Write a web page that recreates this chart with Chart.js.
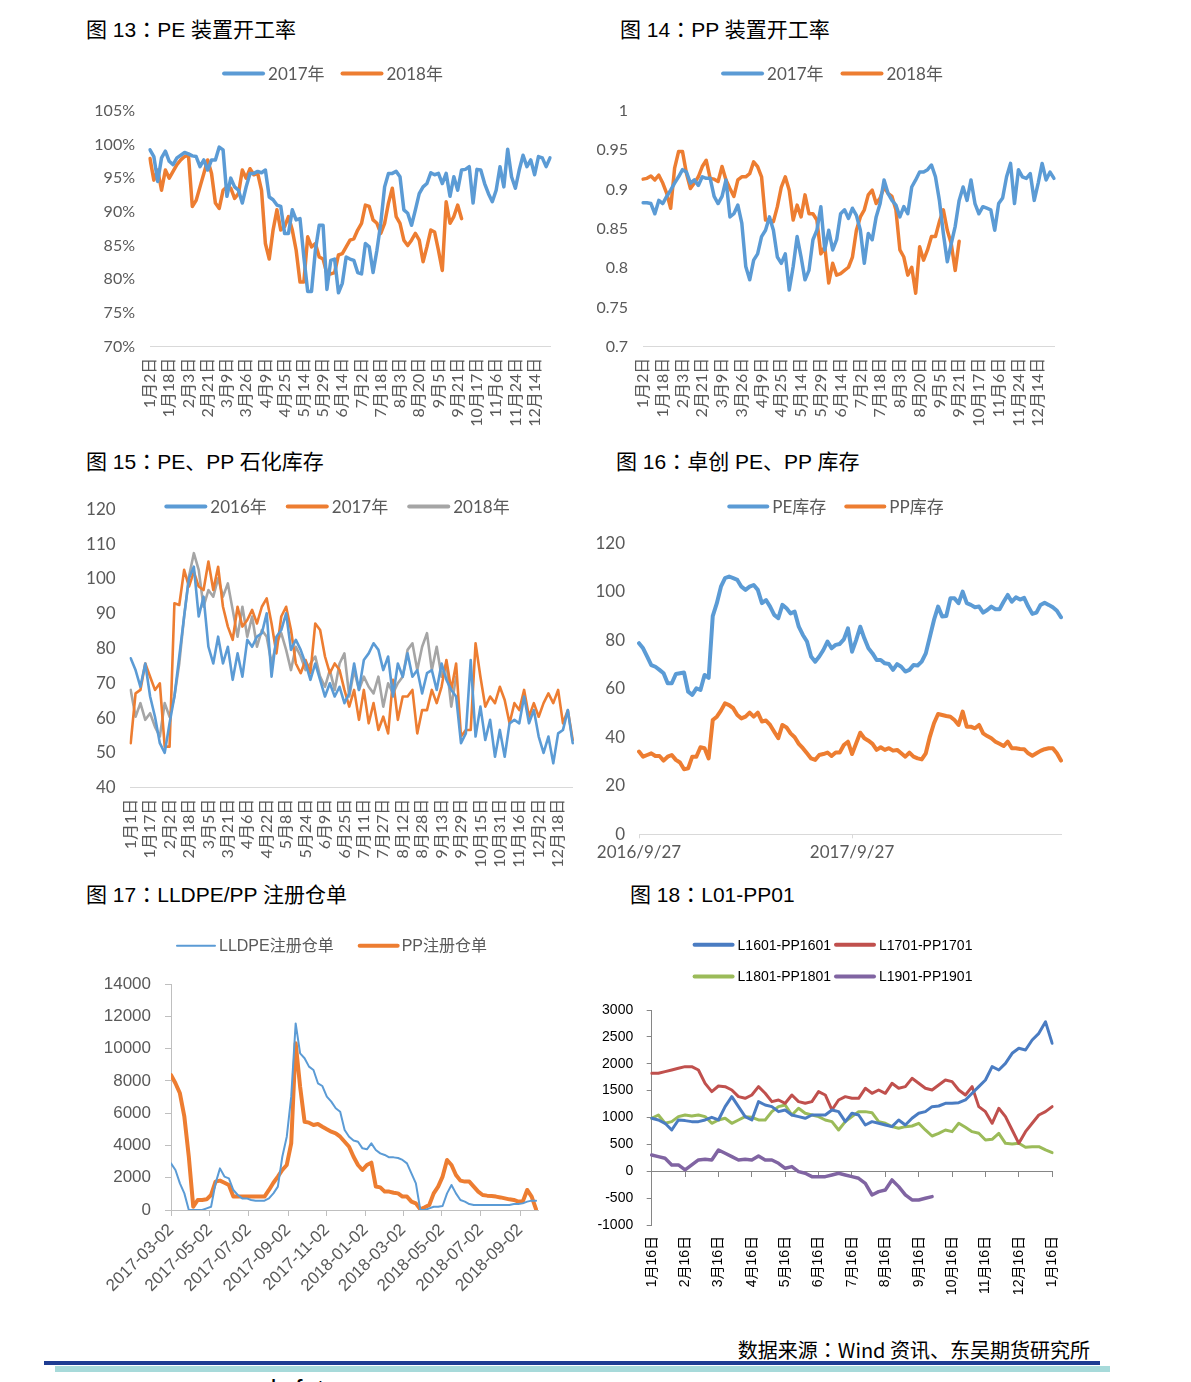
<!DOCTYPE html>
<html>
<head>
<meta charset="utf-8">
<script src="https://cdn.jsdelivr.net/npm/chart.js@4.4.1/dist/chart.umd.min.js"></script>
<style>
body{margin:0;background:#fff;width:1191px;height:1382px;position:relative;overflow:hidden}
.t{position:absolute;font:21px "Liberation Sans","Noto Sans CJK SC",sans-serif;color:#000;line-height:26px;white-space:nowrap}
.c{font-family:"Noto Sans CJK TC",sans-serif}
canvas{position:absolute}
.src{position:absolute;right:101px;top:1337px;font:20px "Noto Sans CJK SC",sans-serif;line-height:26px;color:#000;white-space:nowrap}
.bar1{position:absolute;left:44px;top:1361px;width:1056px;height:4px;background:#1E3C92}
.bar2{position:absolute;left:55px;top:1366px;width:1055px;height:6px;background:#A7DADA}
.site{position:absolute;left:262px;top:1375px;font:26px "Liberation Sans",sans-serif;line-height:28px;color:#000}
</style>
</head>
<body>
<div class="t" style="left:86px;top:15px">图 13<span class="c">：</span>PE 装置开工率</div>
<div class="t" style="left:620px;top:15px">图 14<span class="c">：</span>PP 装置开工率</div>
<div class="t" style="left:86px;top:447px">图 15<span class="c">：</span>PE、PP 石化库存</div>
<div class="t" style="left:616px;top:447px">图 16<span class="c">：</span>卓创 PE、PP 库存</div>
<div class="t" style="left:86px;top:880px">图 17<span class="c">：</span>LLDPE/PP 注册仓单</div>
<div class="t" style="left:630px;top:880px">图 18<span class="c">：</span>L01-PP01</div>

<canvas id="c13" width="500" height="390" style="left:80px;top:50px"></canvas>
<canvas id="c14" width="490" height="390" style="left:590px;top:50px"></canvas>
<canvas id="c15" width="515" height="395" style="left:80px;top:480px"></canvas>
<canvas id="c16" width="492" height="395" style="left:590px;top:480px"></canvas>
<canvas id="c17" width="480" height="395" style="left:80px;top:925px"></canvas>
<canvas id="c18" width="490" height="395" style="left:590px;top:925px"></canvas>

<div class="src">数据来源<span class="c">：</span>Wind 资讯、东吴期货研究所</div>
<div class="bar1"></div>
<div class="bar2"></div>
<div class="site">dwfutures.com</div>

<script>
// ---- 图13 / 图14: 装置开工率, 5 points between tick labels
var ticksRate = ['1月2日','1月18日','2月3日','2月21日','3月9日','3月26日','4月9日','4月25日','5月14日','5月29日',
  '6月14日','7月2日','7月18日','8月3日','8月20日','9月5日','9月21日','10月17日','11月6日','11月24日','12月14日'];

var pe2017 = [99.2,98.2,94.5,98,99,97.5,97,98,98.4,98.8, 98.6,98.3,98.2,96.7,97.7,96.2,97.7,97.7,99.6,99.2,
  92.3,95,93.7,93.2,91.3,93.7,95.7,95.7,96,95.8, 96.2,92.2,91.8,91,90.8,86.8,86.8,90.3,88.8,89,
  83.3,78.2,78.2,84.3,88,88,78.5,82.8,83,78, 79.4,83.3,83,82.8,81,80.8,85.3,84.8,81,84.3,
  88.3,93.7,95.7,95.7,96,95.2,90.3,89.8,88,90.3, 92.7,93.7,94.2,95.8,95.5,95.7,94.2,95.7,92.3,95.2,
  93.2,96.2,96.3,96.7,91.3,96.3,96.2,94.2,92.7,91.5, 93.2,96.7,93.7,99.3,95.2,93.5,96.2,98.4,96.7,97.7,
  95.5,98.2,98,96.7,98];
var pe2018 = [97.9,94.7,96.2,93.2,96.2,95,96,97,97.7,98.2, 98.4,90.8,91.7,93.7,95.7,97.7,95.7,91.3,90.5,93.2,
  93.7,93.5,92,92.7,96.2,95,96.4,95.5,95.7,93.2, 85.3,83,87.3,90.3,87.3,87.8,89.3,87.3,84.3,79.6,
  79.6,86.3,84.8,85.3,83.3,83,80.8,80.8,81,83.6, 83.8,84.8,85.8,86,87.3,88.3,91,90.8,88.8,88.3,
  86.8,88.3,91.3,93.5,89.3,88.3,85.8,85,85.8,86.8, 85.8,82.6,84.8,87.3,87,84.3,81.3,91.5,88.3,89.3,
  91,89];

var pp2017 = [0.883,0.883,0.882,0.869,0.886,0.882,0.891,0.899,0.908,0.916, 0.925,0.922,0.908,0.912,0.905,0.916,0.914,0.914,0.891,0.882,
  0.891,0.912,0.865,0.869,0.88,0.857,0.802,0.785,0.81,0.818, 0.84,0.848,0.865,0.848,0.814,0.806,0.818,0.772,0.802,0.84,
  0.814,0.785,0.797,0.836,0.848,0.878,0.823,0.848,0.823,0.836, 0.869,0.874,0.863,0.876,0.867,0.848,0.806,0.844,0.836,0.865,
  0.882,0.912,0.895,0.886,0.88,0.865,0.878,0.869,0.903,0.912, 0.922,0.922,0.925,0.931,0.916,0.886,0.844,0.808,0.831,0.853,
  0.886,0.903,0.886,0.912,0.882,0.869,0.878,0.876,0.874,0.848, 0.882,0.889,0.916,0.933,0.882,0.925,0.916,0.914,0.92,0.886,
  0.908,0.933,0.912,0.922,0.914];
var pp2018 = [0.913,0.914,0.917,0.912,0.918,0.908,0.895,0.876,0.927,0.948, 0.948,0.92,0.901,0.908,0.916,0.929,0.937,0.914,0.913,0.91,
  0.929,0.912,0.901,0.891,0.912,0.916,0.916,0.92,0.935,0.929, 0.916,0.861,0.861,0.859,0.878,0.903,0.916,0.899,0.861,0.88,
  0.865,0.893,0.869,0.869,0.861,0.818,0.827,0.781,0.806,0.791, 0.793,0.797,0.801,0.814,0.848,0.865,0.874,0.893,0.899,0.882,
  0.889,0.903,0.895,0.891,0.874,0.823,0.814,0.791,0.801,0.768, 0.827,0.81,0.823,0.84,0.84,0.859,0.874,0.848,0.831,0.797,
  0.834];

// ---- 图15: 石化库存, 4 points between tick labels
var ticksStock = ['1月1日','1月17日','2月2日','2月18日','3月5日','3月21日','4月6日','4月22日','5月8日','5月24日','6月9日','6月25日',
  '7月11日','7月27日','8月12日','8月28日','9月13日','9月29日','10月15日','10月31日','11月16日','12月2日','12月18日'];
var stock2016 = [77.2,73.8,69,75.7,66.2,60.4,52.8,50,58.5,66.2, 77.7,89.2,100.2,103.5,89.2,94.9,80.5,75.7,83.4,75.7,
  80.5,71,78.6,71.9,82.5,80.5,83.4,84.4,90.1,71.9, 83.4,85.3,90.1,79.6,82.5,79.6,75.7,71,75.7,71,
  66.2,70,66.2,69,64.3,67.1,75.7,68.1,76.7,78.6, 81.5,79.6,73.8,77.7,66.2,75.7,71.9,78.6,71.9,73.8,
  67.1,72.9,73.8,68.1,75.7,71,68.1,66.2,52.8,55.6, 76.7,54.7,63.3,53.7,59.5,48.9,56.6,48.9,58.5,59.5,
  58.5,66.2,58.5,62.3,54.7,50,54.7,47,55.6,56.6, 62.3,52.8];
var stock2017 = [52.8,67.1,68.1,75.7,71.9,68.1,70,51.8,51.8,93, 92.5,102.6,97.8,102.1,97.8,96.8,105,96.8,103.5,92,
  86.3,82.5,92,86.3,88.2,91.1,87.2,92,94.4,87.2, 78.6,89.2,92,85.3,75.7,72.9,76.7,72.9,87.2,85.3,
  77.7,72.9,75.7,73.8,68.1,63.3,68.1,59.5,68.1,58.5, 64.3,56.6,60.4,55.6,71,59.5,66.2,66.2,68.1,55.6,
  62.3,62.3,68.1,64.3,69,76.7,68.1,75.7,54.7,56.6, 56.6,81.5,71.9,63.3,66.2,64.3,69,65.2,58.5,64.3,
  62.3,68.1,60.4,64.3,60.4,64.3,67.1,64.3,68.1,58.5, 62.3,53.7];
var stock2018 = [68.1,60.4,64.3,59.5,61.4,57.5,54.7,64.3,60.4,66.2, 75.7,89.2,100.7,107.4,102.6,92,96.8,94.9,100.2,94.9,
  98.7,91.1,83.4,92,83.4,89.2,80.5,85.3,83.4,75.7, 81.5,84.4,79.6,73.8,80.5,77.7,73.8,75.7,77.7,71.9,
  69,73.8,68.1,75.7,78.6,66.2,73.8,68.1,71.9,69, 67.1,71.9,63.3,70,67.1,70,71.9,79.6,81.5,73.8,
  80.5,84.4,73.8,80.5,71.9,75.7,63.3,71.9];

// ---- 图16: 卓创库存, weekly, 52 weeks between tick labels
var ticksZc = ['2016/9/27','2017/9/27'];
var peStock = [78.8,76.7,73.3,69.8,69.1,67.8,66.4,62.3,62.3,66.1, 66.4,66.7,58.8,57.5,60.2,59.5,65.7,64.5,90,95.3,
  102.1,105.6,106.3,105.6,104.9,102.1,100.8,102.1,102.8,100.8, 95.3,96.6,93.9,90.5,89.1,94.6,93.2,91.1,91.8,85.6,
  82.2,79.5,73.3,71.2,73.3,76,79.5,76.7,78.1,78.5, 80.4,84.9,75.3,80.1,85.6,80.8,76.7,74.6,71.9,71.9,
  70.5,70.2,67.8,70.2,69.1,67.1,67.8,69.8,69.6,71.2, 74.6,81.5,88.4,93.9,89.8,90,97.3,97.3,95.3,100.1,
  95.3,94.6,93.6,93.9,91.4,92.5,93.9,92.8,92.8,95.9, 98.7,95.9,97.7,96.8,97.5,93.9,90.9,91.4,94.6,95.5,
  94.6,93.6,92.2,89.5];
var ppStock = [34.1,32,32.7,33.4,32.3,32.3,30.4,32,32.7,30.7, 29.6,26.8,27.2,32,32,35.9,35.5,31.3,47.1,48.5,
  51,54,53.3,52,49.2,47.8,48.5,50.2,48.5,50.2, 46.5,46.9,45.1,42.3,39.6,45.1,44.1,41.6,40,37.3,
  35.5,33.4,31.3,30.7,32.7,33.1,33.7,32.3,33.7,33.7, 36.8,38.2,33.1,37.5,41.9,39.6,38.6,37.3,34.8,35.9,
  34.8,35.5,34.5,34.8,33.4,32,33.7,32,31.3,30.9, 33.4,40.3,45.8,49.6,49.2,48.8,48.5,47.1,45.1,50.6,
  44.4,44.4,43.7,45.1,41.6,40.5,39.6,38.2,37.3,36.4, 38.2,35.5,35.5,35.2,35.1,33.4,32.4,33.4,34.4,35.1,
  35.5,35.5,33.4,30.4];

// ---- 图17: 注册仓单, weekly from 2017-03-02
var start17 = '2017-03-02';
var ticks17 = ['2017-03-02','2017-05-02','2017-07-02','2017-09-02','2017-11-02','2018-01-02','2018-03-02','2018-05-02','2018-07-02','2018-09-02'];
var lldpeWr = [2890,2480,1650,1030,0,0,0,0,100,200, 1650,2580,2070,1960,1240,930,720,720,620,580,
  580,580,720,1030,1450,3300,4540,7020,11560,9700, 9400,8880,8670,7850,7680,7020,6710,6300,6090,4960,
  4540,4300,4230,3820,3760,4130,3720,3510,3410,3260, 3260,3220,3100,2890,2270,1650,0,0,100,200,
  200,250,1030,1550,1030,620,520,370,310,310, 310,310,310,310,310,310,310,370,370,410,
  520,580,580];
var ppWr = [8360,7850,7230,5780,3300,200,620,620,660,930, 1760,1820,1690,1550,830,830,830,830,830,830,
  830,830,1240,1690,2070,2480,2790,4130,10330,7640, 5470,5410,5270,5330,5160,5000,4850,4750,4540,4230,
  3920,3300,2790,2480,2790,2930,1450,1400,1140,1140, 1070,1030,830,830,520,410,40,170,310,1030,
  1450,2070,3100,2790,2170,1820,1760,1760,1450,1140, 930,890,870,830,780,720,660,620,520,520,
  1240,830,40];

// ---- 图18: L01-PP01 价差, 5 points per month
var ticks18 = ['1月16日','2月16日','3月16日','4月16日','5月16日','6月16日','7月16日','8月16日','9月16日','10月16日','11月16日','12月16日','1月16日'];
var l1601 = [985,954,892,768,954,942,923,923,954,1004, 954,1202,1388,1202,1016,954,1295,1233,1202,1109,
  1140,1047,1016,985,1047,1047,1047,1140,1109,923, 1078,1047,861,923,892,861,830,954,861,985,
  1078,1109,1202,1214,1264,1264,1276,1326,1450,1574, 1698,1946,1884,2008,2194,2287,2256,2442,2566,2780,
  2380];
var l1701 = [1822,1822,1853,1884,1915,1946,1946,1884,1636,1481, 1586,1574,1512,1388,1357,1419,1574,1450,1295,1326,
  1264,1419,1295,1264,1295,1481,1419,1140,1326,1388, 1357,1357,1543,1450,1512,1450,1636,1543,1574,1729,
  1636,1543,1512,1605,1698,1667,1512,1419,1574,1202, 1109,892,1171,1016,768,520,737,892,1047,1109,
  1202];
var l1801 = [985,1047,892,923,1016,1047,1028,1047,1016,892, 954,985,892,954,1016,1004,954,954,1109,1202,
  1233,1047,1171,1078,1047,1016,954,923,768,923, 1016,1109,1109,1090,923,892,830,799,830,842,
  892,768,656,706,768,737,892,818,737,706, 582,594,706,520,508,520,446,458,458,396,
  346];
var l1901 = [303,272,241,117,117,24,117,210,222,210, 396,334,272,210,222,210,284,210,210,148,
  55,86,-7,-38,-100,-100,-100,-69,-38,-69, -100,-131,-224,-441,-379,-348,-162,-286,-441,-534,
  -534,-503,-472];

var F1 = 'Lato, "Noto Sans CJK SC", sans-serif';
var F2 = '"Liberation Sans", "Noto Sans CJK SC", sans-serif';
var GREY = '#595959';
var BLUE = '#5B9BD5', ORANGE = '#ED7D31', SILVER = '#A5A5A5';

// category labels: tick label every `step` points, blank in between
function slots(ticks, step, n) {
  return Array.from({length: n}, function (_, i) {
    return (i % step === 0 && i / step < ticks.length) ? ticks[i / step] : '';
  });
}
function keepLabelled(s) {
  var labels = s.getLabels();
  s.ticks = s.ticks.filter(function (t) { return labels[t.value] !== ''; });
}
function line(label, data, color, width) {
  return {label: label, data: data, borderColor: color, backgroundColor: color, borderWidth: width,
    pointRadius: 0, tension: 0, borderJoinStyle: 'round', borderCapStyle: 'round', fill: false};
}

// legend drawn as line samples + text, rows centred on cx
var lineLegend = {
  id: 'lineLegend',
  afterDraw: function (chart, args, o) {
    var ctx = chart.ctx;
    ctx.save();
    ctx.font = o.font;
    ctx.textBaseline = 'middle';
    o.rows.forEach(function (row, r) {
      var items = row.map(function (i) {
        var ds = chart.data.datasets[i];
        return {ds: ds, w: o.sample + o.gap + ctx.measureText(ds.label).width};
      });
      var total = items.reduce(function (s, it) { return s + it.w; }, 0) + o.spacing * (items.length - 1);
      var x = o.cx - total / 2;
      var y = o.y + r * (o.rowGap || 0);
      items.forEach(function (it) {
        ctx.strokeStyle = it.ds.borderColor;
        ctx.lineWidth = o.lineWidth || it.ds.borderWidth;
        ctx.lineCap = 'round';
        ctx.beginPath();
        ctx.moveTo(x + 1, y);
        ctx.lineTo(x + o.sample - 1, y);
        ctx.stroke();
        ctx.fillStyle = o.color;
        ctx.fillText(it.ds.label, x + o.sample + o.gap, y + 1);
        x += it.w + o.spacing;
      });
    });
    ctx.restore();
  }
};

var base = {responsive: false, animation: false, events: []};

function rateChart(id, labels, datasets, o) {
  return new Chart(document.getElementById(id), {
    type: 'line',
    data: {labels: labels, datasets: datasets},
    plugins: [lineLegend],
    options: Object.assign({}, base, {
      layout: {padding: {top: o.top, right: o.right, left: 0, bottom: 0}},
      plugins: {
        legend: {display: false}, tooltip: {enabled: false},
        lineLegend: {cx: o.cx, y: o.ly, rows: [datasets.map(function (d, i) { return i; })],
          sample: 41, gap: 4, spacing: o.spacing, font: '17px ' + F1, color: GREY, lineWidth: 4}
      },
      scales: {
        x: {
          type: 'category',
          grid: {drawOnChartArea: false, drawTicks: false},
          border: {display: true, color: '#D9D9D9', width: 1},
          ticks: {autoSkip: false, minRotation: 90, maxRotation: 90, padding: 11, color: GREY, font: {family: F1, size: 16}},
          afterBuildTicks: keepLabelled,
          afterFit: function (s) { s.height = o.xh; }
        },
        y: {
          min: o.min, max: o.max,
          grid: {display: false, drawTicks: false},
          border: {display: false},
          ticks: {stepSize: o.step, padding: 15, color: GREY, font: {family: F1, size: o.yfs},
            callback: o.fmt || function (v) { return String(v); }},
          afterFit: function (s) { s.width = o.yw; }
        }
      }
    })
  });
}

// 图13
rateChart('c13', slots(ticksRate, 5, pe2017.length), [
  line('2017年', pe2017, BLUE, 3.5),
  line('2018年', pe2018, ORANGE, 3.5)
], {top: 60.7, right: 30, cx: 253, ly: 23.5, spacing: 17, xh: 93.3, yw: 70, min: 70, max: 105, step: 5, yfs: 16,
  fmt: function (v) { return v + '%'; }});

// 图14
rateChart('c14', slots(ticksRate, 5, pp2017.length), [
  line('2017年', pp2017, BLUE, 3.5),
  line('2018年', pp2018, ORANGE, 3.5)
], {top: 60.7, right: 26, cx: 242.5, ly: 23.5, spacing: 18, xh: 93.3, yw: 53, min: 0.7, max: 1, step: 0.05, yfs: 16,
  fmt: function (v) { return String(Math.round(v * 100) / 100); }});

// 图15
rateChart('c15', slots(ticksStock, 4, stock2016.length), [
  line('2016年', stock2016, BLUE, 2.6),
  line('2017年', stock2017, ORANGE, 2.6),
  line('2018年', stock2018, SILVER, 2.6)
], {top: 29.3, right: 22.3, cx: 257.5, ly: 26.5, spacing: 20, xh: 87.3, yw: 50.7, min: 40, max: 120, step: 10, yfs: 17});

// 图16
new Chart(document.getElementById('c16'), {
  type: 'line',
  data: {labels: slots(ticksZc, 52, peStock.length), datasets: [
    line('PE库存', peStock, BLUE, 4),
    line('PP库存', ppStock, ORANGE, 4)
  ]},
  plugins: [lineLegend],
  options: Object.assign({}, base, {
    layout: {padding: {top: 63.3, right: 21, left: 0, bottom: 0}},
    plugins: {
      legend: {display: false}, tooltip: {enabled: false},
      lineLegend: {cx: 246, y: 26.5, rows: [[0, 1]], sample: 40, gap: 4, spacing: 19, font: '17px ' + F1, color: GREY, lineWidth: 4}
    },
    scales: {
      x: {
        type: 'category',
        grid: {drawOnChartArea: false, drawTicks: true, tickLength: 4, color: '#D9D9D9'},
        border: {display: true, color: '#D9D9D9'},
        ticks: {autoSkip: false, maxRotation: 0, padding: 4, color: GREY, font: {family: F1, size: 17}},
        afterBuildTicks: keepLabelled,
        afterFit: function (s) { s.height = 40.7; }
      },
      y: {
        min: 0, max: 120,
        grid: {display: false, drawTicks: false},
        border: {display: false},
        ticks: {stepSize: 20, padding: 14, color: GREY, font: {family: F1, size: 17}},
        afterFit: function (s) { s.width = 49; }
      }
    }
  })
});

// 图17
function dayOf(d) { return (Date.parse(d) - Date.parse(start17)) / 864e5; }
function weekly(vals) { return vals.map(function (v, i) { return {x: i * 7, y: v}; }); }
new Chart(document.getElementById('c17'), {
  type: 'line',
  data: {datasets: [
    line('LLDPE注册仓单', weekly(lldpeWr), BLUE, 2),
    line('PP注册仓单', weekly(ppWr), ORANGE, 4)
  ]},
  plugins: [lineLegend],
  options: Object.assign({}, base, {
    layout: {padding: {top: 59, right: 22, left: 0, bottom: 0}},
    plugins: {
      legend: {display: false}, tooltip: {enabled: false},
      lineLegend: {cx: 251.5, y: 20.8, rows: [[0, 1]], sample: 40, gap: 3, spacing: 25, font: '16px ' + F2, color: GREY}
    },
    scales: {
      x: {
        type: 'linear', min: 0, max: 577,
        grid: {drawOnChartArea: false, drawTicks: true, tickLength: 6, color: '#BFBFBF'},
        border: {display: true, color: '#BFBFBF'},
        ticks: {autoSkip: false, minRotation: 45, maxRotation: 45, padding: 4, color: GREY, font: {family: F2, size: 17},
          callback: function (v, i) { return ticks17[i]; }},
        afterBuildTicks: function (s) { s.ticks = ticks17.map(function (d) { return {value: dayOf(d)}; }); },
        afterFit: function (s) { s.height = 110; }
      },
      y: {
        min: 0, max: 14000,
        grid: {drawOnChartArea: false, drawTicks: true, tickLength: 6, color: '#BFBFBF'},
        border: {display: true, color: '#BFBFBF'},
        ticks: {stepSize: 2000, padding: 14, color: GREY, font: {family: F2, size: 17},
          callback: function (v) { return String(v); }},
        afterFit: function (s) { s.width = 91; }
      }
    }
  })
});

// 图18
var labels18 = slots(ticks18, 5, l1601.length);
new Chart(document.getElementById('c18'), {
  type: 'line',
  data: {labels: labels18, datasets: [
    line('L1601-PP1601', l1601, '#4A7CC2', 3),
    line('L1701-PP1701', l1701, '#C0504D', 3),
    line('L1801-PP1801', l1801, '#9BBB59', 3),
    line('L1901-PP1901', l1901, '#8064A2', 3.5)
  ]},
  plugins: [lineLegend],
  options: Object.assign({}, base, {
    layout: {padding: {top: 85, right: 27, left: 0, bottom: 0}},
    plugins: {
      legend: {display: false}, tooltip: {enabled: false},
      lineLegend: {cx: 243, y: 19.8, rowGap: 31.7, rows: [[0, 1], [2, 3]], sample: 40, gap: 4, spacing: 4,
        font: '14px ' + F2, color: '#000', lineWidth: 4}
    },
    scales: {
      x: {
        type: 'category', position: {y: 0},
        grid: {drawOnChartArea: false, drawTicks: true, tickLength: 5, color: '#868686'},
        border: {display: true, color: '#868686'},
        ticks: {display: false, autoSkip: false},
        afterBuildTicks: keepLabelled
      },
      x2: {
        type: 'category', position: 'bottom', labels: labels18,
        grid: {display: false, drawTicks: false},
        border: {display: false},
        ticks: {autoSkip: false, minRotation: 90, maxRotation: 90, padding: 11, color: '#000', font: {family: F2, size: 14}},
        afterBuildTicks: keepLabelled,
        afterFit: function (s) { s.height = 95; }
      },
      y: {
        min: -1000, max: 3000,
        grid: {drawOnChartArea: false, drawTicks: true, tickLength: 5, color: '#868686'},
        border: {display: true, color: '#868686'},
        ticks: {stepSize: 500, padding: 13.5, color: '#000', font: {family: F2, size: 14},
          callback: function (v) { return String(v); }},
        afterFit: function (s) { s.width = 61.7; }
      }
    }
  })
});
</script>
</body>
</html>
